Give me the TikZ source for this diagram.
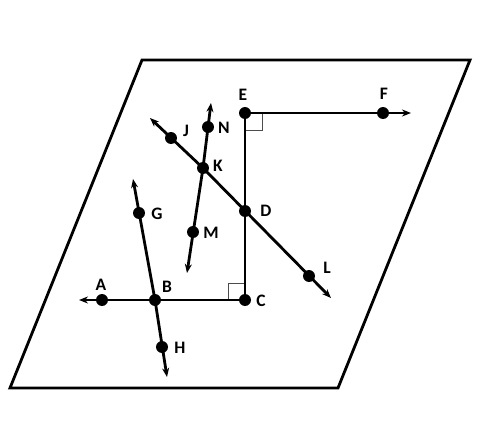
\documentclass[tikz,border=0pt]{standalone}
\usepackage{fontspec}
\setmainfont{Carlito}
\usetikzlibrary{arrows.meta}
\begin{document}
\begin{tikzpicture}[x=1pt,y=-1pt,
  dot/.style={circle,fill=black,inner sep=0pt,minimum size=12pt},
  lbl/.style={font=\bfseries\fontsize{17.5}{17.5}\selectfont,inner sep=0pt},
  ln/.style={line width=2.8pt},
  ray/.style={line width=2.8pt,-{Stealth[length=9pt,width=7pt]}},
  sq/.style={line width=0.8pt,draw=black!70}]
\useasboundingbox (0,0) rectangle (483,439);
% plane
\coordinate (p1) at (142,60);
\coordinate (p2) at (470,60);
\coordinate (p3) at (338,388);
\coordinate (p4) at (10,388);
\draw[line width=2.8pt,line join=miter] (p1) -- (p2) -- (p3) -- (p4) -- cycle;
% points
\node[dot] (E) at (245,113) {};
\node[dot] (F) at (383,113) {};
\node[dot] (D) at (245,211) {};
\node[dot] (C) at (245,300) {};
\node[dot] (A) at (102,300) {};
\node[dot] (B) at (155,300) {};
\node[dot] (G) at (139,213) {};
\node[dot] (H) at (162,347) {};
\node[dot] (J) at (171,138) {};
\node[dot] (K) at (203,168) {};
\node[dot] (L) at (309,276) {};
\node[dot] (N) at (208,127) {};
\node[dot] (M) at (193,232) {};
% arrow ends
\coordinate (Fend) at (411,113);
\coordinate (Aend) at (79,300);
\coordinate (Gend) at (133,179);
\coordinate (Hend) at (167,377);
\coordinate (Jend) at (150,118);
\coordinate (Lend) at (331,298);
\coordinate (Nend) at (211,103);
\coordinate (Mend) at (187,273);
% right-angle marks
\draw[sq] (245,130) -- (262,130) -- (262,113);
\draw[sq] (228,300) -- (228,283) -- (245,283);
% lines
\draw[ln] (E.center) -- (C.center);
\draw[ray] (E.center) -- (Fend);
\draw[ray] (C.center) -- (Aend);
\draw[ray] (B.center) -- (Gend);
\draw[ray] (B.center) -- (Hend);
\draw[ray] (K.center) -- (Jend);
\draw[ray] (K.center) -- (Lend);
\draw[ray] (K.center) -- (Nend);
\draw[ray] (K.center) -- (Mend);
% labels
\node[lbl] at (243,95) {E};
\node[lbl] at (384,94) {F};
\node[lbl] at (186,131) {J};
\node[lbl] at (224,128) {N};
\node[lbl] at (218,166) {K};
\node[lbl] at (157,214) {G};
\node[lbl] at (266,211) {D};
\node[lbl] at (211,233) {M};
\node[lbl] at (327,268) {L};
\node[lbl] at (101,285) {A};
\node[lbl] at (167,287) {B};
\node[lbl] at (261,301) {C};
\node[lbl] at (180,348) {H};
\end{tikzpicture}
\end{document}
